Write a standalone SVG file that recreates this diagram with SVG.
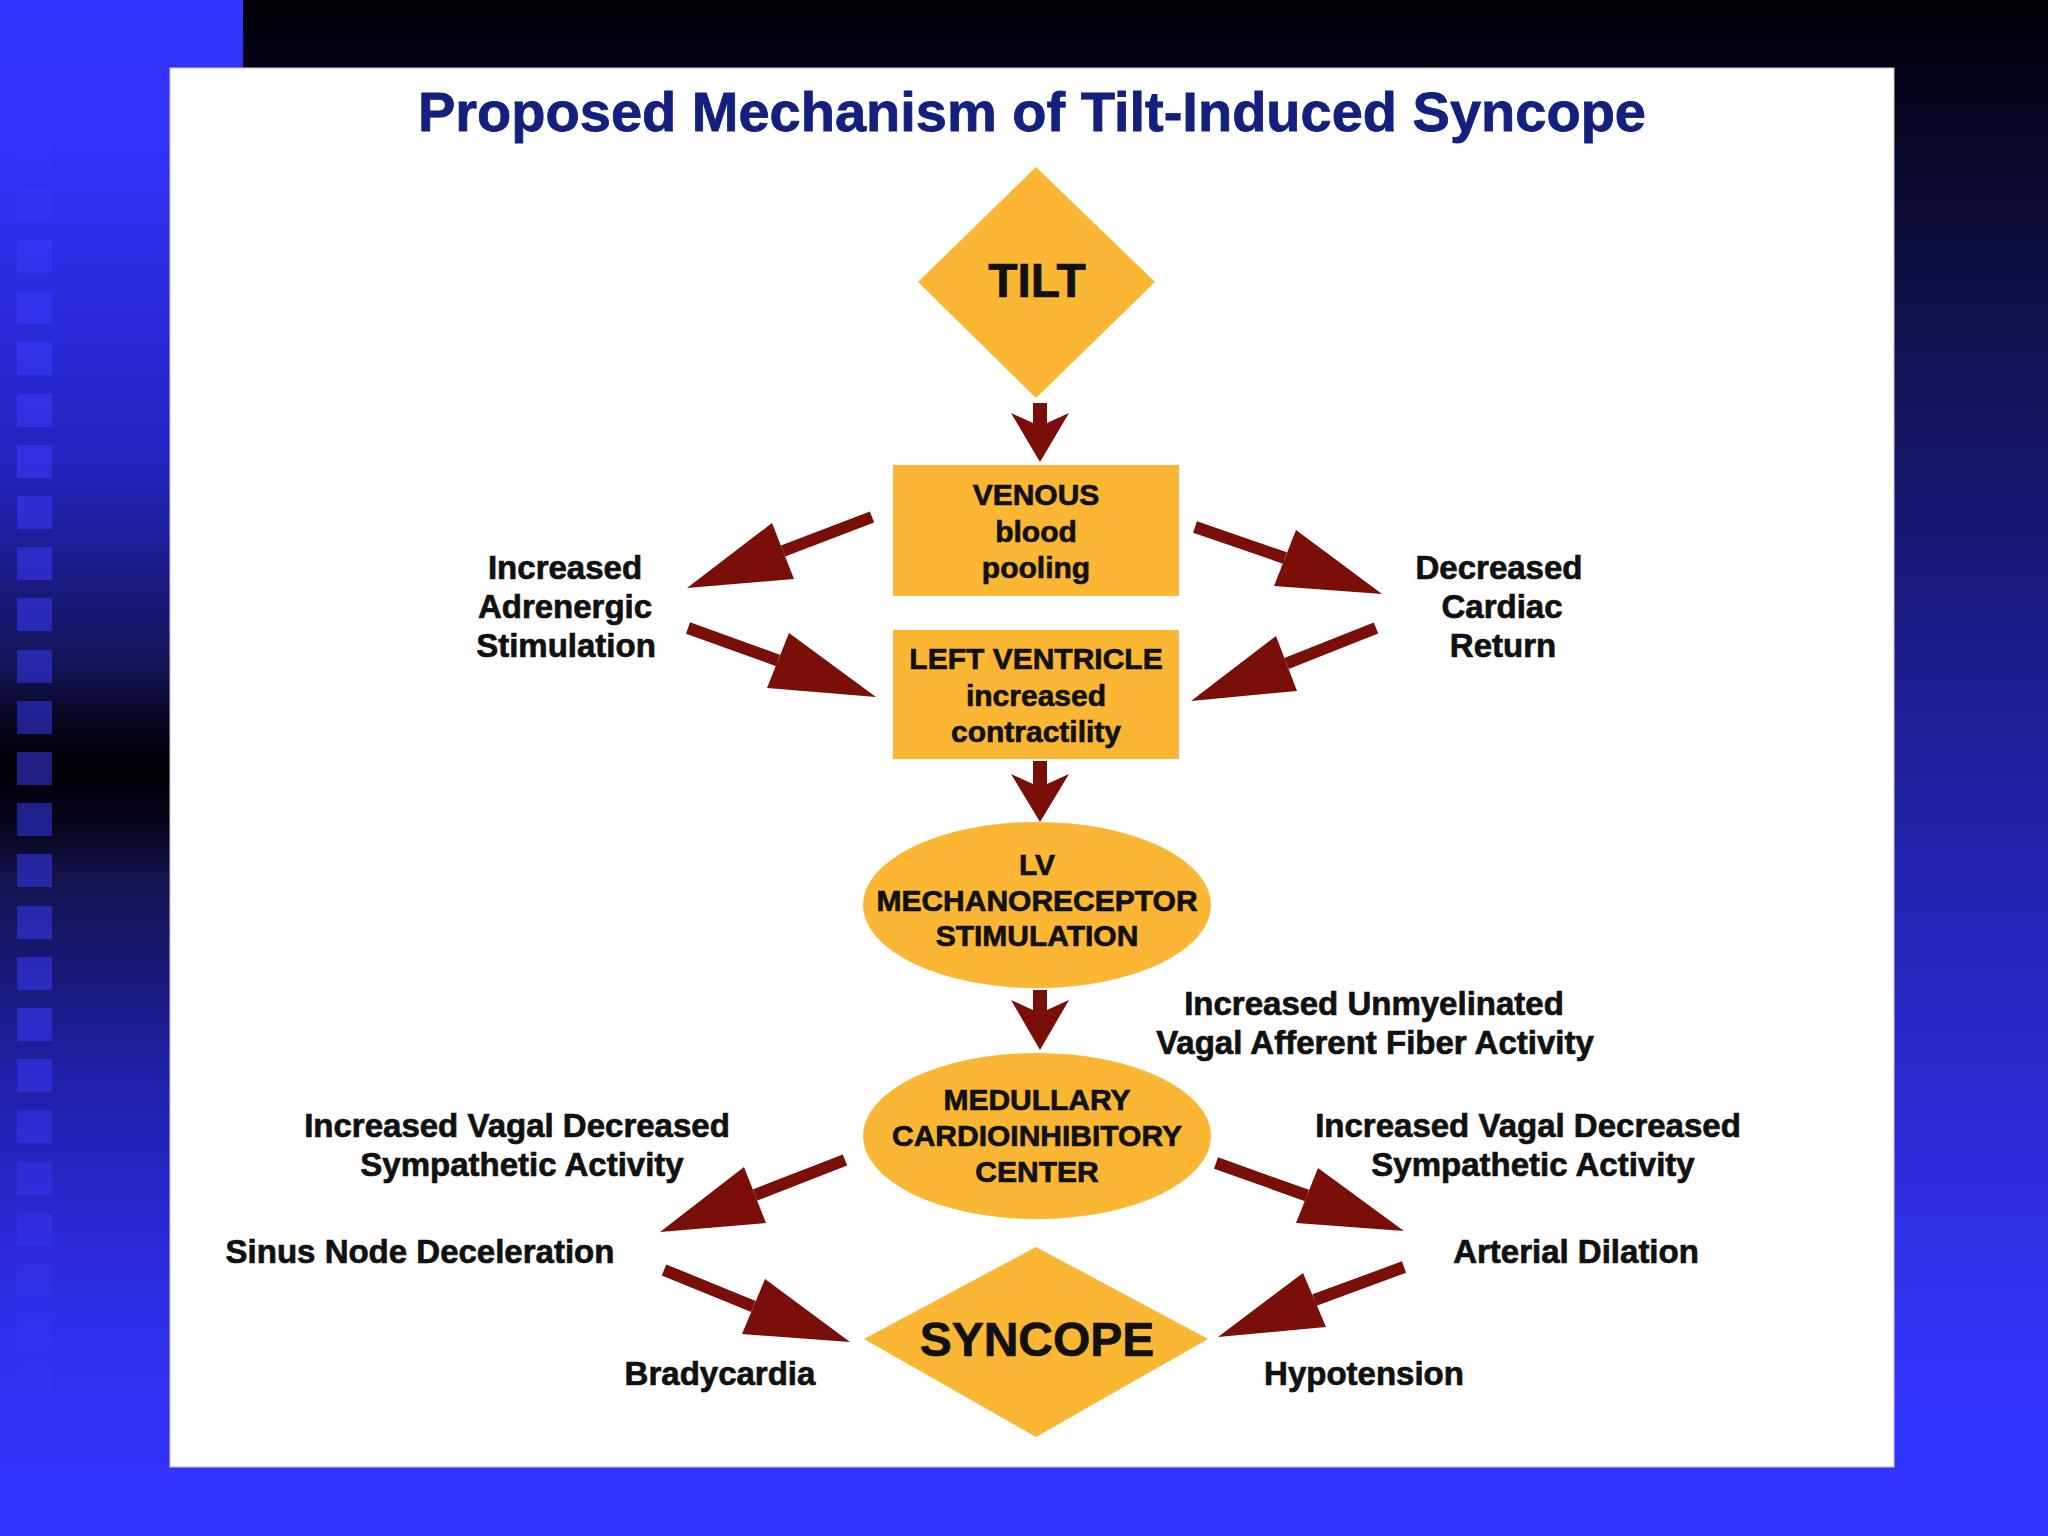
<svg xmlns="http://www.w3.org/2000/svg" width="2048" height="1536" viewBox="0 0 2048 1536">
  <defs>
    <linearGradient id="bgRight" x1="0" y1="0" x2="0" y2="1536" gradientUnits="userSpaceOnUse">
      <stop offset="0" stop-color="#000006"/>
      <stop offset="0.06" stop-color="#05051c"/>
      <stop offset="0.2" stop-color="#10104a"/>
      <stop offset="0.4" stop-color="#1a1a84"/>
      <stop offset="0.6" stop-color="#2525b8"/>
      <stop offset="0.78" stop-color="#2e2ee0"/>
      <stop offset="0.92" stop-color="#3333ff"/>
      <stop offset="1" stop-color="#3333ff"/>
    </linearGradient>
    <linearGradient id="bgLeft" x1="0" y1="0" x2="0" y2="1536" gradientUnits="userSpaceOnUse">
      <stop offset="0" stop-color="#3333ff"/>
      <stop offset="0.09" stop-color="#3232fa"/>
      <stop offset="0.3" stop-color="#2424c0"/>
      <stop offset="0.43" stop-color="#14145a"/>
      <stop offset="0.47" stop-color="#06061e"/>
      <stop offset="0.5" stop-color="#000006"/>
      <stop offset="0.54" stop-color="#06061e"/>
      <stop offset="0.57" stop-color="#12124c"/>
      <stop offset="0.7" stop-color="#2020a8"/>
      <stop offset="0.85" stop-color="#2e2ee8"/>
      <stop offset="1" stop-color="#3333ff"/>
    </linearGradient>
    <style>
      .sq { fill: #3c3cff; }
      .node { fill: #fbb634; }
      .shaft { stroke: #7a0e08; stroke-width: 12; fill: none; }
      .head { fill: #7a0e08; }
      .varrow { fill: #7a0e08; }
      text { font-family: "Liberation Sans", Arial, Helvetica, sans-serif; font-weight: bold; fill: #111111; stroke: #111111; stroke-width: 0.7; text-anchor: middle; }
      .title { fill: #13207e; stroke: #13207e; stroke-width: 0.8; font-size: 56px; }
      .nt { font-size: 30px; }
      .big { font-size: 48px; }
      .lbl { font-size: 33px; }
    </style>
  </defs>

  <!-- background -->
  <g id="background">
    <rect x="0" y="0" width="2048" height="1536" fill="url(#bgRight)"/>
    <rect x="0" y="0" width="243" height="1536" fill="url(#bgLeft)"/>
    <rect x="0" y="1467" width="2048" height="69" fill="#3333ff"/>
    <g id="squares">
      <rect class="sq" x="17" y="138" width="35" height="33" opacity="0.15"/>
      <rect class="sq" x="17" y="189" width="35" height="33" opacity="0.25"/>
      <rect class="sq" x="17" y="240" width="35" height="33" opacity="0.4"/>
      <rect class="sq" x="17" y="291" width="35" height="33" opacity="0.45"/>
      <rect class="sq" x="17" y="342" width="35" height="33" opacity="0.5"/>
      <rect class="sq" x="17" y="394" width="35" height="33" opacity="0.5"/>
      <rect class="sq" x="17" y="445" width="35" height="33" opacity="0.5"/>
      <rect class="sq" x="17" y="496" width="35" height="33" opacity="0.5"/>
      <rect class="sq" x="17" y="547" width="35" height="33" opacity="0.5"/>
      <rect class="sq" x="17" y="598" width="35" height="33" opacity="0.5"/>
      <rect class="sq" x="17" y="650" width="35" height="33" opacity="0.5"/>
      <rect class="sq" x="17" y="701" width="35" height="33" opacity="0.5"/>
      <rect class="sq" x="17" y="752" width="35" height="33" opacity="0.5"/>
      <rect class="sq" x="17" y="803" width="35" height="33" opacity="0.5"/>
      <rect class="sq" x="17" y="854" width="35" height="33" opacity="0.5"/>
      <rect class="sq" x="17" y="906" width="35" height="33" opacity="0.5"/>
      <rect class="sq" x="17" y="957" width="35" height="33" opacity="0.5"/>
      <rect class="sq" x="17" y="1008" width="35" height="33" opacity="0.5"/>
      <rect class="sq" x="17" y="1059" width="35" height="33" opacity="0.45"/>
      <rect class="sq" x="17" y="1110" width="35" height="33" opacity="0.4"/>
      <rect class="sq" x="17" y="1162" width="35" height="33" opacity="0.35"/>
      <rect class="sq" x="17" y="1213" width="35" height="33" opacity="0.3"/>
      <rect class="sq" x="17" y="1264" width="35" height="33" opacity="0.22"/>
      <rect class="sq" x="17" y="1315" width="35" height="33" opacity="0.15"/>
      <rect class="sq" x="17" y="1366" width="35" height="33" opacity="0.08"/>
    </g>
  </g>

  <!-- white panel -->
  <rect id="panel" x="170" y="68" width="1724" height="1399" fill="#ffffff" stroke="#c8c8d4" stroke-width="1"/>

  <text id="title" class="title" x="1032" y="131">Proposed Mechanism of Tilt-Induced Syncope</text>

  <!-- nodes -->
  <g id="node-tilt">
    <polygon class="node" points="1036,167 1155,282 1036,398 918,282"/>
    <text class="big" x="1037" y="297">TILT</text>
  </g>

  <g id="node-venous">
    <rect class="node" x="893" y="465" width="286" height="131"/>
    <text class="nt" x="1036" y="505">VENOUS</text>
    <text class="nt" x="1036" y="541.5">blood</text>
    <text class="nt" x="1036" y="578">pooling</text>
  </g>

  <g id="node-lv">
    <rect class="node" x="893" y="630" width="286" height="129"/>
    <text class="nt" x="1036" y="669">LEFT VENTRICLE</text>
    <text class="nt" x="1036" y="705.5">increased</text>
    <text class="nt" x="1036" y="742">contractility</text>
  </g>

  <g id="node-mechano">
    <ellipse class="node" cx="1037" cy="905" rx="174" ry="83"/>
    <text class="nt" x="1037" y="874.5">LV</text>
    <text class="nt" x="1037" y="910.5">MECHANORECEPTOR</text>
    <text class="nt" x="1037" y="946">STIMULATION</text>
  </g>

  <g id="node-medullary">
    <ellipse class="node" cx="1037" cy="1136" rx="174" ry="83"/>
    <text class="nt" x="1037" y="1110">MEDULLARY</text>
    <text class="nt" x="1037" y="1146">CARDIOINHIBITORY</text>
    <text class="nt" x="1037" y="1182">CENTER</text>
  </g>

  <g id="node-syncope">
    <polygon class="node" points="1036,1247 1208,1339 1036,1437 864,1339"/>
    <text class="big" x="1037" y="1356">SYNCOPE</text>
  </g>

  <g id="label-adrenergic">
    <text class="lbl" x="565" y="579">Increased</text>
    <text class="lbl" x="565" y="618">Adrenergic</text>
    <text class="lbl" x="566" y="657">Stimulation</text>
  </g>

  <g id="label-cardiac-return">
    <text class="lbl" x="1499" y="579">Decreased</text>
    <text class="lbl" x="1502" y="618">Cardiac</text>
    <text class="lbl" x="1503" y="657">Return</text>
  </g>

  <g id="label-afferent">
    <text class="lbl" x="1374" y="1015">Increased Unmyelinated</text>
    <text class="lbl" x="1375" y="1054">Vagal Afferent Fiber Activity</text>
  </g>

  <g id="label-vagal-left">
    <text class="lbl" x="517" y="1137">Increased Vagal Decreased</text>
    <text class="lbl" x="522" y="1176">Sympathetic Activity</text>
  </g>

  <g id="label-vagal-right">
    <text class="lbl" x="1528" y="1137">Increased Vagal Decreased</text>
    <text class="lbl" x="1533" y="1176">Sympathetic Activity</text>
  </g>

  <g id="label-sinus">
    <text class="lbl" x="420" y="1263">Sinus Node Deceleration</text>
  </g>
  <g id="label-arterial">
    <text class="lbl" x="1576" y="1263">Arterial Dilation</text>
  </g>
  <g id="label-brady">
    <text class="lbl" x="720" y="1385">Bradycardia</text>
  </g>
  <g id="label-hypo">
    <text class="lbl" x="1364" y="1385">Hypotension</text>
  </g>

  <!-- connectors -->
  <g id="connectors">
    <polygon class="varrow" points="1033,403 1047,403 1047,423 1069,413 1040,462 1011,413 1033,423"/>
    <polygon class="varrow" points="1033,761 1047,761 1047,784 1069,774 1040,822 1011,774 1033,784"/>
    <polygon class="varrow" points="1033,990 1047,990 1047,1010 1069,1000 1040,1050 1011,1000 1033,1010"/>

    <line class="shaft" x1="872" y1="517" x2="783" y2="551"/>
    <polygon class="head" points="687,588 772,523 794,579"/>

    <line class="shaft" x1="688" y1="628" x2="778" y2="660.5"/>
    <polygon class="head" points="876,697 789,633 767,688"/>

    <line class="shaft" x1="1195" y1="527" x2="1285" y2="558"/>
    <polygon class="head" points="1382,594 1296,530 1274,586"/>

    <line class="shaft" x1="1376" y1="628" x2="1286.5" y2="663.5"/>
    <polygon class="head" points="1191,701 1276,636 1297,691"/>

    <line class="shaft" x1="845" y1="1160" x2="755" y2="1195"/>
    <polygon class="head" points="660,1232 744,1167 766,1223"/>

    <line class="shaft" x1="664" y1="1270" x2="753.5" y2="1306.5"/>
    <polygon class="head" points="850,1342 765,1279 742,1334"/>

    <line class="shaft" x1="1216" y1="1163" x2="1307" y2="1195.5"/>
    <polygon class="head" points="1404,1231 1318,1168 1296,1223"/>

    <line class="shaft" x1="1404" y1="1267" x2="1314.5" y2="1300"/>
    <polygon class="head" points="1218,1337 1303,1273 1326,1327"/>
  </g>
</svg>
